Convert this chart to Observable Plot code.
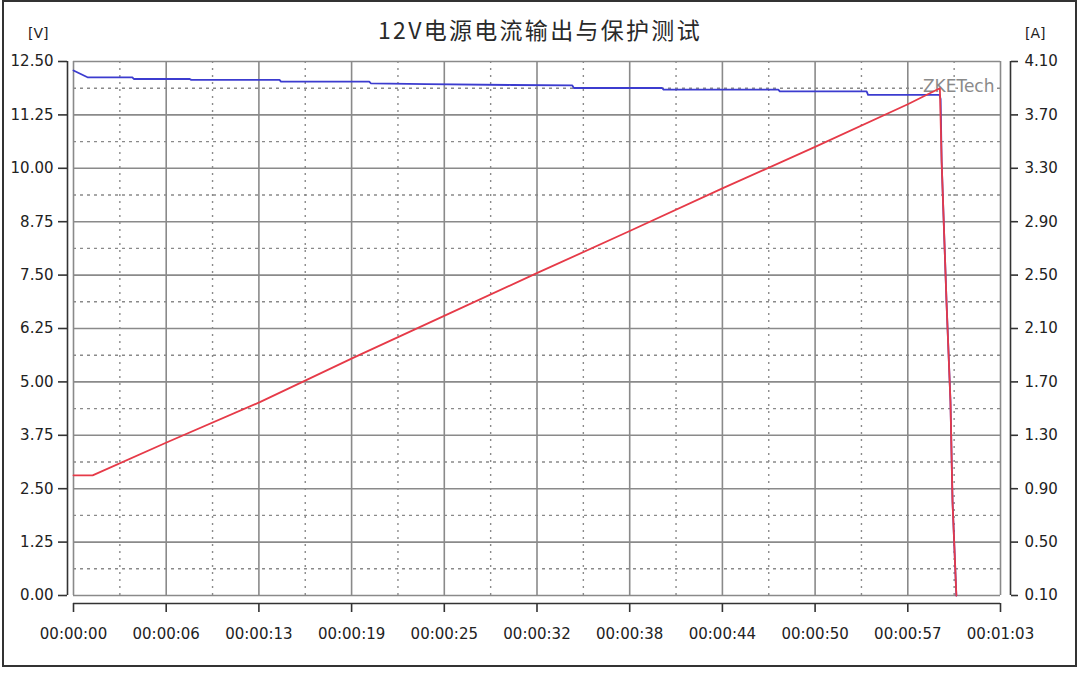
<!DOCTYPE html>
<html>
<head>
<meta charset="utf-8">
<script src="https://cdn.jsdelivr.net/npm/d3@7"></script>
<script src="https://cdn.jsdelivr.net/npm/@observablehq/plot@0.6"></script>
<style>
  html, body { margin: 0; padding: 0; background: #fff; }
  #wrap { position: relative; width: 1080px; height: 693px; overflow: hidden; background: #fff; font-family: "DejaVu Sans", sans-serif; }
  #border { position: absolute; left: 2px; top: 0px; width: 1071px; height: 663px; border: 2px solid #333; box-sizing: content-box; }
  #title { position: absolute; left: 0; top: 14px; width: 1080px; text-align: center; font-family: "Noto Sans CJK SC", sans-serif; font-size: 23px; letter-spacing: 2.3px; color: #2a2a2a; line-height: 30px; }
  .unit { position: absolute; top: 23px; font-size: 14px; color: #222; line-height: 20px; }
  #chart { position: absolute; left: 0; top: 0; }
</style>
</head>
<body>
<div id="wrap">
  <div id="border"></div>
  <div id="chart"></div>
  <div id="title"></div>
  <div class="unit" id="uv" style="left:28px"></div>
  <div class="unit" id="ua" style="left:1025px"></div>
</div>
<script>
// ---- texts ----
const titleText = "12V电源电流输出与保护测试";
const leftUnit = "[V]";
const rightUnit = "[A]";
const watermark = "ZKETech";

// ---- tick positions and labels ----
const timeTicks = [0, 6.3, 12.6, 18.9, 25.2, 31.5, 37.8, 44.1, 50.4, 56.7, 63];
const timeLabels = ["00:00:00","00:00:06","00:00:13","00:00:19","00:00:25","00:00:32","00:00:38","00:00:44","00:00:50","00:00:57","00:01:03"];
const voltTicks = [0, 1.25, 2.5, 3.75, 5, 6.25, 7.5, 8.75, 10, 11.25, 12.5];
const voltLabels = ["0.00","1.25","2.50","3.75","5.00","6.25","7.50","8.75","10.00","11.25","12.50"];
const ampLabels = ["0.10","0.50","0.90","1.30","1.70","2.10","2.50","2.90","3.30","3.70","4.10"];
const ampMin = 0.1, ampMax = 4.1;

// ---- series: voltage [V] ----
const voltTime = [0, 0.95, 4.0, 4.1, 7.9, 8.0, 14.0, 14.1, 20.1, 20.2, 24.0, 29.8, 33.9, 34.0, 40.0, 40.1, 47.9, 48.0, 53.9, 54.0, 58.85, 58.93, 59.0, 59.33, 59.6, 59.74, 60.0];
const voltValue = [12.29, 12.13, 12.13, 12.09, 12.09, 12.07, 12.07, 12.03, 12.03, 11.99, 11.97, 11.95, 11.94, 11.88, 11.88, 11.84, 11.84, 11.80, 11.80, 11.72, 11.72, 11.62, 10.16, 6.88, 4.54, 2.20, 0.0];

// ---- series: current [A] ----
const ampTime = [0, 1.3, 6.4, 12.7, 19.0, 25.3, 31.6, 37.8, 44.1, 50.4, 56.7, 58.88, 59.0, 59.33, 59.6, 59.74, 60.0];
const ampValue = [1.00, 1.00, 1.25, 1.55, 1.88, 2.20, 2.52, 2.83, 3.15, 3.46, 3.78, 3.90, 3.35, 2.30, 1.55, 0.80, 0.10];

// ---- build tables ----
const voltData = voltTime.map((t, i) => ({t, v: voltValue[i]}));
const vMax = voltTicks[voltTicks.length - 1];
const ampToV = a => (a - ampMin) / (ampMax - ampMin) * vMax;
const ampData = ampTime.map((t, i) => ({t, v: ampToV(ampValue[i])}));
const minorT = d3.pairs(timeTicks, (a, b) => (a + b) / 2);
const minorV = d3.pairs(voltTicks, (a, b) => (a + b) / 2);
const tMax = timeTicks[timeTicks.length - 1];

document.getElementById("title").textContent = titleText;
document.getElementById("uv").textContent = leftUnit;
document.getElementById("ua").textContent = rightUnit;

const axisColor = "#333";
const chart = Plot.plot({
  width: 1080,
  height: 693,
  marginTop: 61,
  marginBottom: 98,
  marginLeft: 73,
  marginRight: 80,
  x: {domain: [0, tMax]},
  y: {domain: [0, vMax]},
  style: {fontFamily: "DejaVu Sans", fontSize: "15px", color: "#222", background: "transparent"},
  marks: [
    Plot.gridX(minorT, {stroke: "#8a8a8a", strokeOpacity: 1, strokeWidth: 1.4, strokeDasharray: "2,5"}),
    Plot.gridY(minorV, {stroke: "#8a8a8a", strokeOpacity: 1, strokeWidth: 1.4, strokeDasharray: "3,4"}),
    Plot.gridX(timeTicks, {stroke: "#8a8a8a", strokeOpacity: 1, strokeWidth: 1.6}),
    Plot.gridY(voltTicks, {stroke: "#8a8a8a", strokeOpacity: 1, strokeWidth: 1.6}),
    // left axis
    Plot.ruleX([0], {y1: 0, y2: vMax, dx: -6, stroke: axisColor, strokeWidth: 1.6}),
    Plot.axisY(voltTicks, {anchor: "left", dx: -6, tickSize: 9, tickPadding: 5, stroke: axisColor, strokeWidth: 1.6, label: null,
      tickFormat: d => voltLabels[voltTicks.indexOf(d)]}),
    // right axis
    Plot.ruleX([tMax], {y1: 0, y2: vMax, dx: 10, stroke: axisColor, strokeWidth: 1.6}),
    Plot.axisY(voltTicks, {anchor: "right", dx: 10, tickSize: 7, tickPadding: 7, stroke: axisColor, strokeWidth: 1.6, label: null,
      tickFormat: d => ampLabels[voltTicks.indexOf(d)]}),
    // bottom axis
    Plot.ruleY([0], {x1: 0, x2: tMax, dy: 8, stroke: axisColor, strokeWidth: 1.6}),
    Plot.axisX(timeTicks, {anchor: "bottom", dy: 8, tickSize: 9, tickPadding: 16, stroke: axisColor, strokeWidth: 1.6, label: null,
      tickFormat: d => timeLabels[timeTicks.indexOf(d)]}),
    // watermark
    Plot.text([watermark], {text: d => d, frameAnchor: "top-right", dx: -6, dy: 25, lineAnchor: "middle", textAnchor: "end",
      fill: "#8a8a8a", stroke: "white", strokeWidth: 4, fontSize: 17}),
    // series
    Plot.line(voltData, {x: "t", y: "v", stroke: "#3c3ccf", strokeWidth: 1.8}),
    Plot.line(ampData, {x: "t", y: "v", stroke: "#e63a48", strokeWidth: 1.8})
  ]
});
document.getElementById("chart").appendChild(chart);
</script>
</body>
</html>
